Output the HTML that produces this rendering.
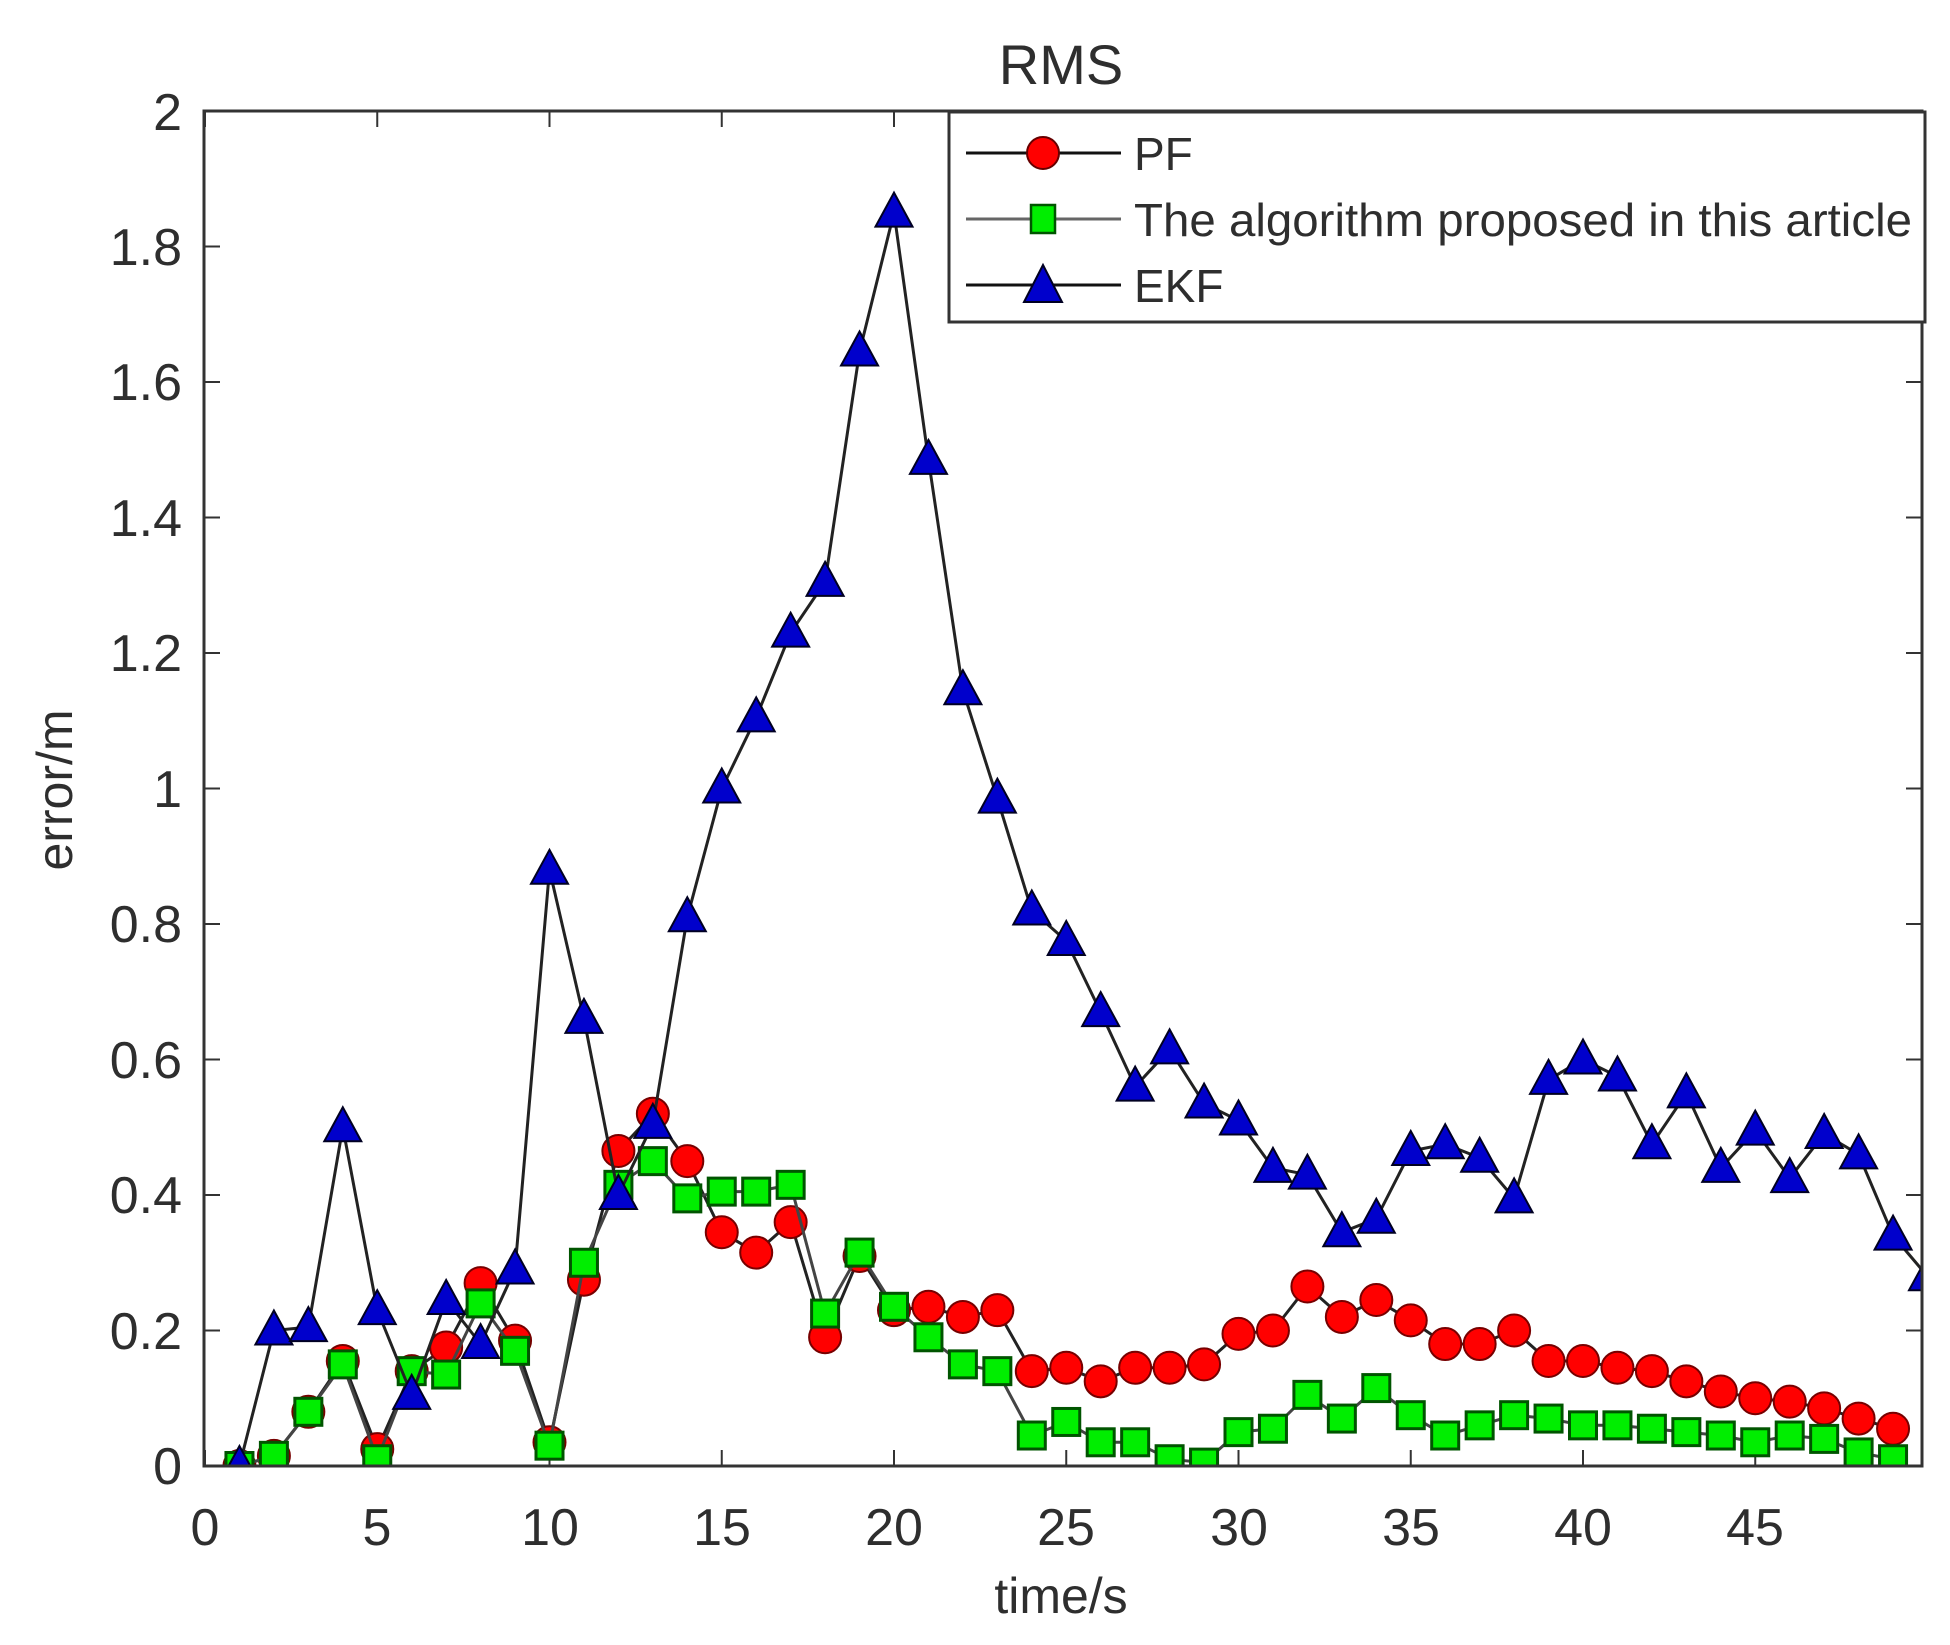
<!DOCTYPE html>
<html><head><meta charset="utf-8"><style>
html,body{margin:0;padding:0;background:#fff;}
svg{display:block;}
text{font-family:"Liberation Sans",Arial,sans-serif;fill:#2e2e2e;}
</style></head><body>
<svg id="s" width="1950" height="1645" viewBox="0 0 1950 1645" xmlns="http://www.w3.org/2000/svg">
<defs><clipPath id="c"><rect x="204" y="111" width="1718" height="1355"/></clipPath></defs>
<rect width="1950" height="1645" fill="#fff"/>
<text x="1061" y="84" font-size="56" text-anchor="middle">RMS</text>
<g font-size="52" text-anchor="end">
<text x="182" y="1484">0</text>
<text x="182" y="1349">0.2</text>
<text x="182" y="1213">0.4</text>
<text x="182" y="1078">0.6</text>
<text x="182" y="942">0.8</text>
<text x="182" y="807">1</text>
<text x="182" y="671">1.2</text>
<text x="182" y="536">1.4</text>
<text x="182" y="400">1.6</text>
<text x="182" y="265">1.8</text>
<text x="182" y="130">2</text>
</g>
<g font-size="52" text-anchor="middle">
<text x="205" y="1545">0</text>
<text x="377" y="1545">5</text>
<text x="550" y="1545">10</text>
<text x="722" y="1545">15</text>
<text x="894" y="1545">20</text>
<text x="1066" y="1545">25</text>
<text x="1239" y="1545">30</text>
<text x="1411" y="1545">35</text>
<text x="1583" y="1545">40</text>
<text x="1755" y="1545">45</text>
</g>
<text x="1061" y="1613" font-size="50" text-anchor="middle">time/s</text>
<text x="0" y="0" font-size="50" text-anchor="middle" transform="translate(72,790) rotate(-90)">error/m</text>
<g id="ticks" stroke="#333" stroke-width="2"></g>
<g id="plot" clip-path="url(#c)"></g>
<rect x="204" y="111" width="1718" height="1355" fill="none" stroke="#333" stroke-width="3"/>
<rect x="949" y="112" width="976" height="210" fill="#fff" stroke="#333" stroke-width="3"/>
<line x1="966" y1="153" x2="1121" y2="153" stroke="#111" stroke-width="3"/>
<circle cx="1043" cy="153" r="16" fill="#f00" stroke="#600" stroke-width="2"/>
<line x1="966" y1="219" x2="1121" y2="219" stroke="#666" stroke-width="3"/>
<rect x="1031" y="205" width="24" height="28" fill="#0e0" stroke="#050" stroke-width="2.5"/>
<line x1="966" y1="285" x2="1121" y2="285" stroke="#111" stroke-width="3"/>
<polygon points="1043,265 1062,302 1024,302" fill="#00c" stroke="#002" stroke-width="2"/>
<text x="1134" y="170" font-size="46">PF</text>
<text x="1134" y="236" font-size="46" textLength="778" lengthAdjust="spacingAndGlyphs">The algorithm proposed in this article</text>
<text x="1134" y="302" font-size="46">EKF</text>
</svg>
<script>
var X=function(v){return 205+v*34.45;},Y=function(v){return 1466-v*677.5;};
var NS="http://www.w3.org/2000/svg";
function el(t,a,p){var e=document.createElementNS(NS,t);for(var k in a)e.setAttribute(k,a[k]);p.appendChild(e);return e;}
var tk=document.getElementById('ticks');
for(var i=0;i<=45;i+=5){el('line',{x1:X(i),y1:1466,x2:X(i),y2:1450},tk);el('line',{x1:X(i),y1:111,x2:X(i),y2:127},tk);}
for(var j=0;j<=10;j++){var y=Y(j*0.2);el('line',{x1:204,y1:y,x2:220,y2:y},tk);el('line',{x1:1922,y1:y,x2:1906,y2:y},tk);}
var pf=[0,0.015,0.08,0.155,0.025,0.14,0.175,0.27,0.185,0.035,0.275,0.465,0.52,0.45,0.345,0.315,0.36,0.19,0.31,0.23,0.235,0.22,0.23,0.14,0.145,0.125,0.145,0.145,0.15,0.195,0.2,0.265,0.22,0.245,0.215,0.18,0.18,0.2,0.155,0.155,0.145,0.14,0.125,0.11,0.1,0.095,0.085,0.07,0.055];
var gr=[0,0.015,0.08,0.15,0.01,0.14,0.135,0.24,0.17,0.03,0.3,0.415,0.45,0.395,0.405,0.405,0.415,0.225,0.315,0.235,0.19,0.15,0.14,0.045,0.065,0.035,0.035,0.01,0.005,0.05,0.055,0.105,0.07,0.115,0.075,0.045,0.06,0.075,0.07,0.06,0.06,0.055,0.05,0.045,0.035,0.045,0.04,0.02,0.01];
var ek=[0,0.2,0.205,0.5,0.23,0.105,0.245,0.18,0.29,0.88,0.66,0.4,0.505,0.81,1.0,1.105,1.23,1.305,1.645,1.85,1.485,1.145,0.985,0.82,0.775,0.67,0.56,0.615,0.535,0.51,0.44,0.43,0.345,0.365,0.465,0.475,0.455,0.395,0.57,0.6,0.575,0.475,0.55,0.44,0.495,0.425,0.49,0.46,0.34,0.28];
var P=document.getElementById('plot');
function pts(d){return d.map(function(v,i){return X(i+1).toFixed(1)+','+Y(v).toFixed(1);}).join(' ');}
function series(d,col,mk){
 el('polyline',{points:pts(d),fill:'none',stroke:col,'stroke-width':3},P);
 d.forEach(function(v,i){var x=X(i+1),y=Y(v);
  if(mk==0)el('circle',{cx:x,cy:y,r:16,fill:'#f00',stroke:'#700','stroke-width':2},P);
  else if(mk==1)el('rect',{x:x-13.5,y:y-13.5,width:27,height:27,fill:'#0e0',stroke:'#050','stroke-width':3},P);
  else el('polygon',{points:x+','+(y-20)+' '+(x+18.5)+','+(y+14)+' '+(x-18.5)+','+(y+14),fill:'#00c',stroke:'#002','stroke-width':2},P);
 });
}
series(pf,'#222',0);series(gr,'#444',1);series(ek,'#222',2);
</script>
</body></html>
